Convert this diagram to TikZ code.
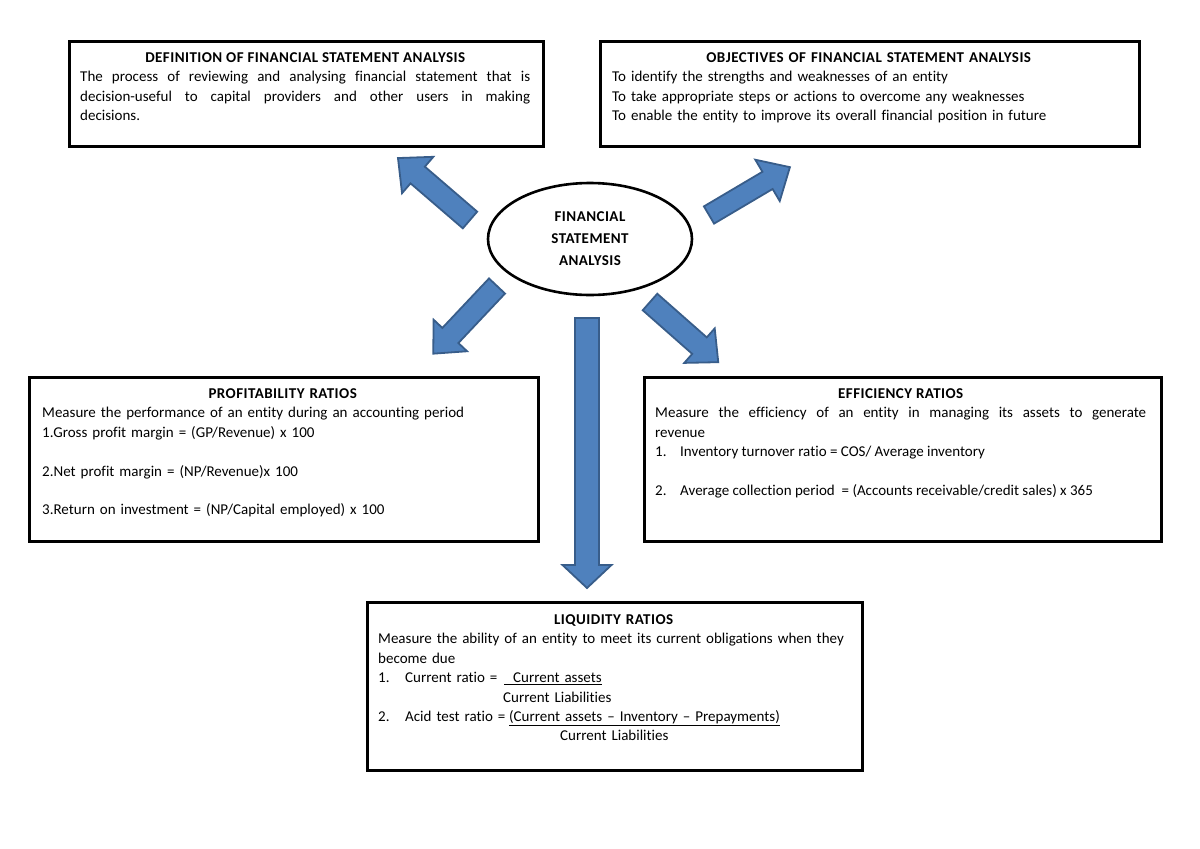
\documentclass[tikz,border=0pt]{standalone}
\usepackage{fontspec}
\setmainfont{Carlito}[Ligatures=CommonOff,BoldFeatures={LetterSpace=3}]
\usetikzlibrary{shapes.geometric}
\definecolor{arrfill}{HTML}{4F81BD}
\definecolor{arrline}{HTML}{385D8A}
\newcommand\blockarr[7]{% tail x, tail y, angle, length, shaft half width, head half width, head length
  \begin{scope}[shift={(#1,#2)},rotate=#3]
    \draw[arrowshape] (0,-#5) -- ({#4-#7},-#5) -- ({#4-#7},-#6) -- (#4,0) -- ({#4-#7},#6) -- ({#4-#7},#5) -- (0,#5) -- cycle;
  \end{scope}}
\newcommand\boxtitle[1]{{\centering\bfseries\strut #1\par}}
\begin{document}
\begin{tikzpicture}[x=1pt,y=1pt,
  box/.style={draw, line width=2.6pt, inner sep=0pt, anchor=north west},
  txt/.style={anchor=north west, inner sep=0pt, font=\fontsize{15}{19.4}\selectfont},
  arrowshape/.style={fill=arrfill, draw=arrline, line width=1.8pt, line join=miter}]
\useasboundingbox[fill=white] (0,0) rectangle (1200,-849);

% boxes
\node[box, minimum width=474pt, minimum height=105pt] (defbox) at (68,-40) {};
\node[box, minimum width=539pt, minimum height=105pt] (objbox) at (599,-40) {};
\node[box, minimum width=509pt, minimum height=164pt] (probox) at (28,-376) {};
\node[box, minimum width=517pt, minimum height=164pt] (effbox) at (643,-376) {};
\node[box, minimum width=495pt, minimum height=168pt] (liqbox) at (366,-601) {};

% centre ellipse
\node[draw, ellipse, line width=2.6pt, minimum width=204pt, minimum height=112pt, inner sep=0pt] (fsa) at (590,-239) {};
\node[align=center, inner sep=0pt, font=\fontsize{15}{22}\selectfont\bfseries] (fsatext) at (fsa.center) {FINANCIAL\\STATEMENT\\ANALYSIS};

% texts
\node[txt, text width=450pt, align=justify] (deftext) at (80,-48.7) {\parindent0pt
\boxtitle{DEFINITION OF FINANCIAL STATEMENT ANALYSIS}
The process of reviewing and analysing financial statement that is\linebreak
\mbox{decision-useful} to capital providers and other users in making\linebreak
decisions.\par};

\node[txt, text width=513pt, align=left] (objtext) at (612,-48.7) {\parindent0pt
\boxtitle{OBJECTIVES OF FINANCIAL STATEMENT ANALYSIS}
To identify the strengths and weaknesses of an entity\par
To take appropriate steps or actions to overcome any weaknesses\par
To enable the entity to improve its overall financial position in future\par};

\node[txt, text width=481pt, align=left] (protext) at (42,-384.7) {\parindent0pt
\boxtitle{PROFITABILITY RATIOS}
Measure the performance of an entity during an accounting period\par
1.Gross profit margin = (GP/Revenue) x 100\par
\mbox{}\par
2.Net profit margin = (NP/Revenue)x 100\par
\mbox{}\par
3.Return on investment = (NP/Capital employed) x 100\par};

\node[txt, text width=491pt, align=justify] (efftext) at (655,-384.7) {\parindent0pt
\boxtitle{EFFICIENCY RATIOS}
Measure the efficiency of an entity in managing its assets to generate\linebreak
revenue\par
\makebox[25pt][l]{1.}Inventory turnover ratio = COS/ Average inventory\par
\mbox{}\par
\makebox[25pt][l]{2.}Average collection period\ \ = (Accounts receivable/credit sales) x 365\par};

\node[txt, text width=471pt, align=left] (liqtext) at (378,-610.7) {\parindent0pt
\boxtitle{LIQUIDITY RATIOS}
Measure the ability of an entity to meet its current obligations when they become due\par
\makebox[27pt][l]{1.}\makebox[99pt][l]{Current ratio =}\underline{\hspace{9pt}Current assets}\par
\hspace*{125pt}Current Liabilities\par
\makebox[27pt][l]{2.}\makebox[104pt][l]{Acid test ratio =}\underline{(Current assets -- Inventory -- Prepayments)}\par
\hspace*{182pt}Current Liabilities\par};

% block arrows
\blockarr{470}{-220}{139.3}{95}{11}{24}{26}
\blockarr{709}{-215}{30.6}{94}{10}{24}{26}
\blockarr{497}{-286}{226.7}{93}{11}{23}{25}
\blockarr{650}{-302}{-41.4}{91}{11}{23}{25}
\blockarr{587}{-318}{-90}{270}{12}{24.5}{23}
\end{tikzpicture}
\end{document}
